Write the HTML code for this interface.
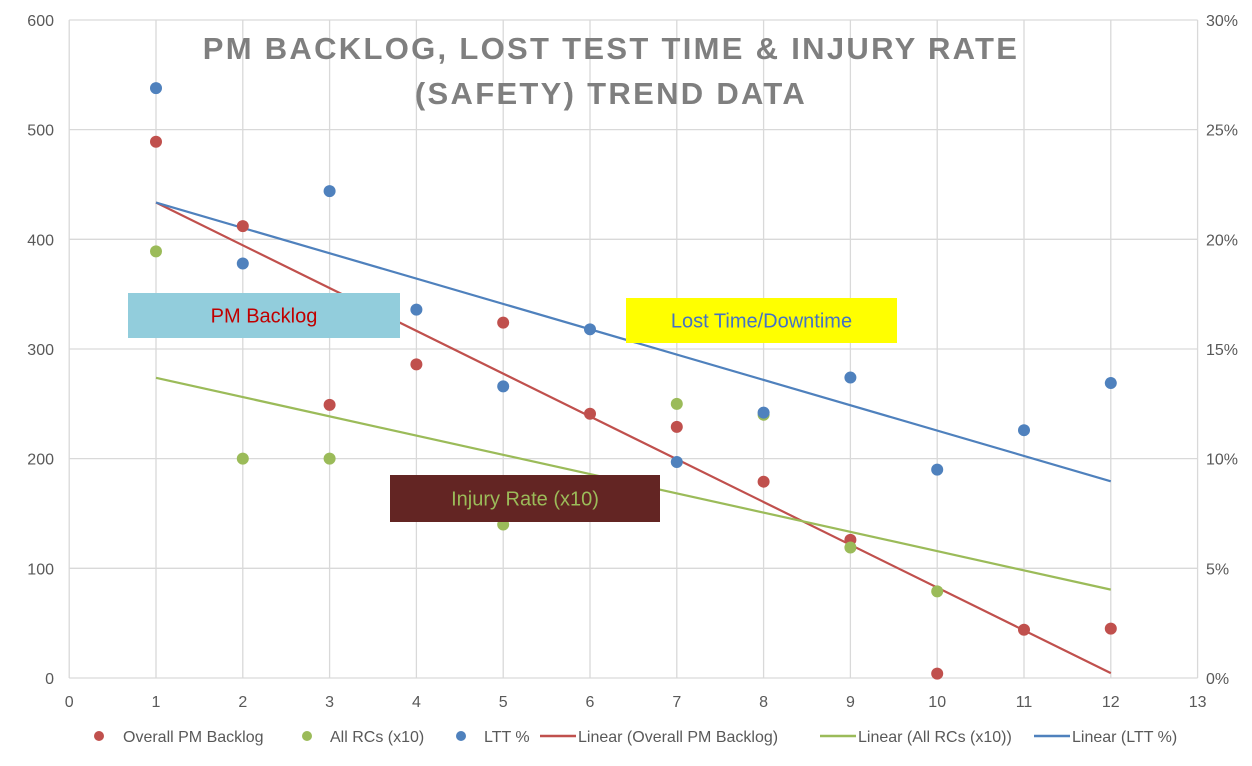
<!DOCTYPE html>
<html><head><meta charset="utf-8"><style>
body{margin:0;background:#fff;}
svg{display:block;font-family:"Liberation Sans",Arial,sans-serif;}
</style></head><body>
<svg id="c" width="1252" height="766"></svg>
<script>
const xCats=[1,2,3,4,5,6,7,8,9,10,11,12];
const pmBacklog=[489,412,249,286,324,241,229,179,126,4,44,45];
const rcX=[1,2,3,4,5,6,7,8,9,10];
const rcVals=[389,200,200,170,140,160,250,240,119,79];
const lttVals=[26.9,18.9,22.2,16.8,13.3,15.9,9.85,12.1,13.7,9.5,11.3,13.45];
const xTicks=[0,1,2,3,4,5,6,7,8,9,10,11,12,13];
const yTicks=[0,100,200,300,400,500,600];
const y2Ticks=["0%","5%","10%","15%","20%","25%","30%"];

const svg=document.getElementById('c');
const NS='http://www.w3.org/2000/svg';
const X=v=>69.2+v*86.8;
const Y=v=>678-v*1.0967;
const Y2=v=>678-v*21.93;
function mk(t,a,p){const e=document.createElementNS(NS,t);for(const k in a)e.setAttribute(k,a[k]);(p||svg).appendChild(e);return e;}
function reg(xs,ys){const n=xs.length,mx=xs.reduce((a,b)=>a+b)/n,my=ys.reduce((a,b)=>a+b)/n;let sxx=0,sxy=0;xs.forEach((x,i)=>{sxx+=(x-mx)**2;sxy+=(x-mx)*(ys[i]-my);});const b=sxy/sxx;return x=>my+b*(x-mx);}

const grid=mk('g',{});

yTicks.forEach((t,i)=>{
  mk('line',{x1:X(0),x2:X(13),y1:Y(t),y2:Y(t),stroke:'#d9d9d9','stroke-width':1.3},grid);
  const l=mk('text',{x:54,y:Y(t)+6,'text-anchor':'end','font-size':16,fill:'#595959'});l.textContent=t;
  
  const r=mk('text',{x:1206,y:Y(t)+6,'font-size':16,fill:'#595959'});r.textContent=y2Ticks[i];
  
});
xTicks.forEach(t=>{
  mk('line',{x1:X(t),x2:X(t),y1:Y(0),y2:Y(600),stroke:'#d9d9d9','stroke-width':1.3},grid);
  const l=mk('text',{x:X(t),y:707,'text-anchor':'middle','font-size':16,fill:'#595959'});l.textContent=t;
  
});

[["PM BACKLOG, LOST TEST TIME & INJURY RATE",59],["(SAFETY) TREND DATA",104]].forEach(([s,y])=>{
  const t=mk('text',{x:611,y:y,'text-anchor':'middle','font-size':31,'font-weight':'bold',fill:'#7f7f7f','letter-spacing':2.3});t.textContent=s;
  
});

function trend(xs,ys,fy,col,name){const f=reg(xs,ys);const l=mk('line',{x1:X(1),x2:X(12),y1:fy(f(1)),y2:fy(f(12)),stroke:col,'stroke-width':2.2});
  }
trend(xCats,pmBacklog,Y,'#C0504D','trend-pm-backlog');
trend(rcX,rcVals,Y,'#9BBB59','trend-all-rcs');
trend(xCats,lttVals,Y2,'#4F81BD','trend-ltt');

xCats.forEach((x,i)=>{const c=mk('circle',{cx:X(x),cy:Y(pmBacklog[i]),r:6,fill:'#C0504D'});
  });
rcX.forEach((x,i)=>{const c=mk('circle',{cx:X(x),cy:Y(rcVals[i]),r:6,fill:'#9BBB59'});
  });
xCats.forEach((x,i)=>{const c=mk('circle',{cx:X(x),cy:Y2(lttVals[i]),r:6,fill:'#4F81BD'});
  });

function box(x,y,w,h,bg,col,txt,name){const g=mk('g',{});
  mk('rect',{x,y,width:w,height:h,fill:bg},g);const t=mk('text',{x:x+w/2,y:y+h/2+7,'text-anchor':'middle','font-size':20,fill:col},g);t.textContent=txt;}
box(128,293,272,45,'#92CDDC','#C00000','PM Backlog','pm-backlog-label');
box(626,298,271,45,'#FFFF00','#4472C4','Lost Time/Downtime','lost-time-label');
box(390,475,270,47,'#632523','#9BBB59','Injury Rate (x10)','injury-rate-label');

const lg=mk('g',{});
function ld(cx,col,txt,tx){const c=mk('circle',{cx,cy:736,r:5,fill:col},lg);
  const t=mk('text',{x:tx,y:742,'font-size':16,fill:'#595959'},lg);t.textContent=txt;}
function ll(x1,col,txt){const l=mk('line',{x1,x2:x1+36,y1:736,y2:736,stroke:col,'stroke-width':2.5},lg);
  const t=mk('text',{x:x1+38,y:742,'font-size':16,fill:'#595959'},lg);t.textContent=txt;}
ld(99,'#C0504D','Overall PM Backlog',123);
ld(307,'#9BBB59','All RCs (x10)',330);
ld(461,'#4F81BD','LTT %',484);
ll(540,'#C0504D','Linear (Overall PM Backlog)');
ll(820,'#9BBB59','Linear (All RCs (x10))');
ll(1034,'#4F81BD','Linear (LTT %)');
</script>
</body></html>
